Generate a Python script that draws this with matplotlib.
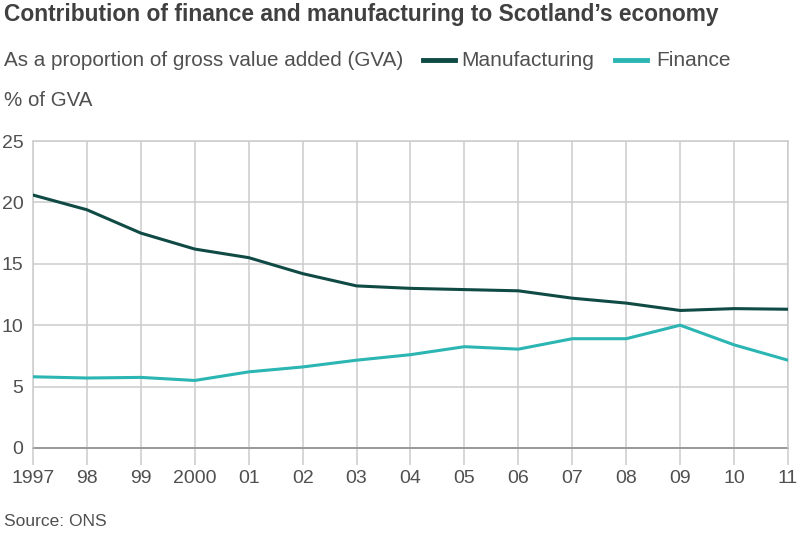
import matplotlib
matplotlib.use("Agg")
import matplotlib.pyplot as plt
from matplotlib.lines import Line2D

plt.rcParams['font.family'] = ['Liberation Sans', 'DejaVu Sans']

# data
years = list(range(1997, 2012))
tick_labels = ["1997", "98", "99", "2000", "01", "02", "03", "04",
               "05", "06", "07", "08", "09", "10", "11"]
manufacturing = [20.6, 19.4, 17.5, 16.2, 15.5, 14.2, 13.2, 13.0,
                 12.9, 12.8, 12.2, 11.8, 11.2, 11.35, 11.3]
finance = [5.8, 5.7, 5.75, 5.5, 6.2, 6.6, 7.15, 7.6,
           8.25, 8.05, 8.9, 8.9, 10.0, 8.4, 7.15]

col_manu = "#0f4a44"
col_fin = "#2bb5b3"
col_text = "#505050"
col_grid = "#cccccc"

fig = plt.figure(figsize=(8, 5.34), dpi=100)
ax = fig.add_axes([33/800, (534-448)/534, (788-33)/800, (448-141)/534])

ax.plot(years, manufacturing, color=col_manu, lw=2.2, zorder=3)
ax.plot(years, finance, color=col_fin, lw=2.2, zorder=3)

ax.set_xlim(1997, 2011)
ax.set_ylim(0, 25)
ax.set_xticks(years)
ax.set_xticklabels(tick_labels)
ax.set_yticks([0, 5, 10, 15, 20, 25])

ax.grid(True, color=col_grid, lw=1.1, zorder=0)
for s in ["top", "left", "right"]:
    ax.spines[s].set_color(col_grid)
    ax.spines[s].set_linewidth(1.1)
ax.spines["bottom"].set_color("#999999")
ax.spines["bottom"].set_linewidth(1.4)
ax.spines["bottom"].set_zorder(2)

ax.tick_params(axis="x", length=12, width=1.1, color=col_grid, pad=4,
               labelsize=14, labelcolor=col_text)
ax.tick_params(axis="y", length=0, pad=7, labelsize=14, labelcolor=col_text)

# header texts
fig.text(4/800, 1 - 15/534, "Contribution of finance and manufacturing to Scotland\u2019s economy",
         fontsize=16.4, fontweight="bold", color="#404040", va="center", ha="left")
fig.text(4/800, 1 - 60/534, "As a proportion of gross value added (GVA)",
         fontsize=14.9, color=col_text, va="center", ha="left")
fig.text(4/800, 1 - 101/534, "% of GVA",
         fontsize=14.8, color=col_text, va="center", ha="left")

# inline legend
y_leg = 1 - 60/534
fig.add_artist(Line2D([423/800, 455/800], [y_leg, y_leg], color=col_manu, lw=3.5))
fig.text(461/800, y_leg, "Manufacturing", fontsize=15, color=col_text, va="center", ha="left")
fig.add_artist(Line2D([615/800, 647/800], [y_leg, y_leg], color=col_fin, lw=3.5))
fig.text(656/800, y_leg, "Finance", fontsize=15, color=col_text, va="center", ha="left")

fig.text(4/800, 1 - 521/534, "Source: ONS", fontsize=12.5, color=col_text, va="center", ha="left")

fig.savefig("out.png", dpi=100)
